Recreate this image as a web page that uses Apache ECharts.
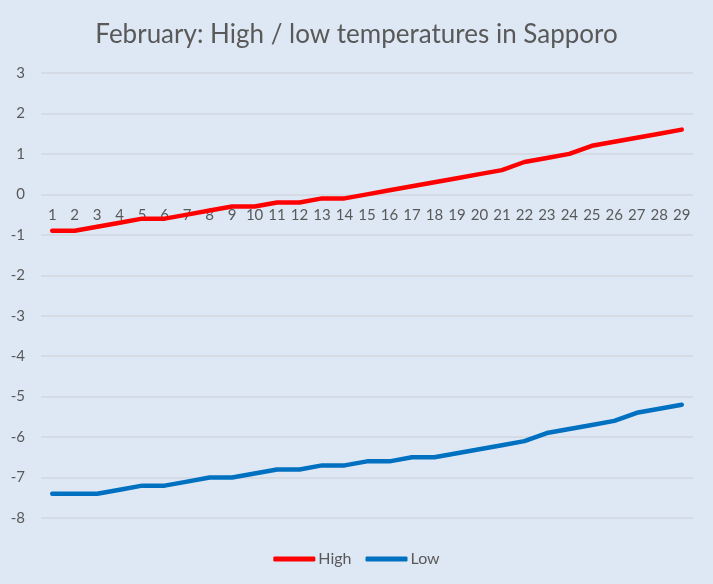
<!DOCTYPE html>
<html>
<head>
<meta charset="utf-8">
<script src="https://cdn.jsdelivr.net/npm/echarts@6/dist/echarts.min.js"></script>
<style>
  html, body { margin: 0; padding: 0; background: #dee8f4; }
  #chart { width: 713px; height: 584px; }
</style>
</head>
<body>
<div id="chart"></div>
<script>
const days = Array.from({ length: 29 }, (_, i) => String(i + 1));
const highTemps = [-0.9, -0.9, -0.8, -0.7, -0.6, -0.6, -0.5, -0.4, -0.3, -0.3,
  -0.2, -0.2, -0.1, -0.1, 0.0, 0.1, 0.2, 0.3, 0.4, 0.5,
  0.6, 0.8, 0.9, 1.0, 1.2, 1.3, 1.4, 1.5, 1.6];
const lowTemps = [-7.4, -7.4, -7.4, -7.3, -7.2, -7.2, -7.1, -7.0, -7.0, -6.9,
  -6.8, -6.8, -6.7, -6.7, -6.6, -6.6, -6.5, -6.5, -6.4, -6.3,
  -6.2, -6.1, -5.9, -5.8, -5.7, -5.6, -5.4, -5.3, -5.2];

const chart = echarts.init(document.getElementById("chart"));
const font = "Lato, 'Open Sans', sans-serif";

chart.setOption({
  backgroundColor: "#dee8f4",
  textStyle: { fontFamily: font },
  title: {
    text: "February: High / low temperatures in Sapporo",
    left: "center",
    top: 17,
    textStyle: { fontFamily: font, fontSize: 26, fontWeight: "normal", color: "#595959" },
  },
  legend: {
    bottom: 12,
    left: "center",
    itemWidth: 42,
    itemHeight: 5,
    itemGap: 14,
    icon: "roundRect",
    textStyle: { fontFamily: font, fontSize: 16, color: "#595959", padding: [0, 0, 0, -2] },
    data: ["High", "Low"],
  },
  grid: { left: 41, right: 20, top: 73, bottom: 66 },
  xAxis: {
    type: "category",
    data: days,
    boundaryGap: true,
    // labels sit just under the zero line, as in the source chart
    axisLine: { show: false, onZero: false },
    axisTick: { show: false },
    axisLabel: { fontFamily: font, fontSize: 15, color: "#595959", interval: 0, margin: -310 },
  },
  yAxis: {
    type: "value",
    min: -8,
    max: 3,
    interval: 1,
    axisLine: { show: false },
    axisTick: { show: false },
    splitLine: { lineStyle: { color: "#d0d7e0", width: 1.5 } },
    axisLabel: { fontFamily: font, fontSize: 15, color: "#595959", margin: 16 },
  },
  series: [
    {
      name: "High",
      type: "line",
      data: highTemps,
      symbol: "none",
      color: "#ff0000",
      lineStyle: { width: 4.5, cap: "round", join: "round" },
    },
    {
      name: "Low",
      type: "line",
      data: lowTemps,
      symbol: "none",
      color: "#0070c0",
      lineStyle: { width: 4.5, cap: "round", join: "round" },
    },
  ],
});
</script>
</body>
</html>
